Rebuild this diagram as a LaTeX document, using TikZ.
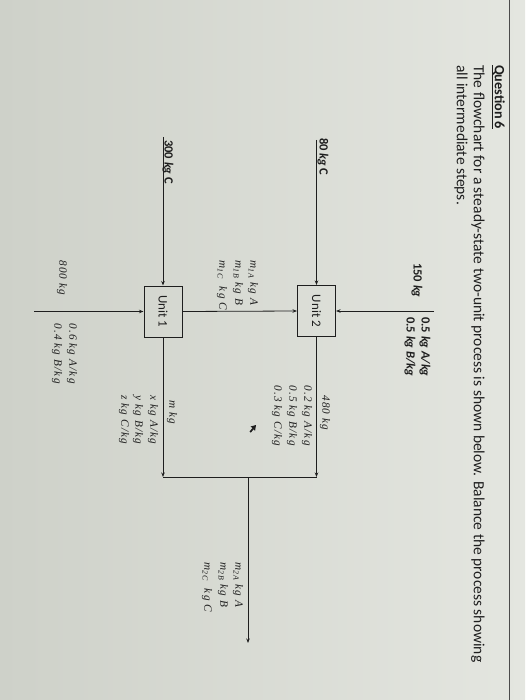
\documentclass[tikz,border=0pt]{standalone}
\usepackage{graphicx}
\usepackage{fontspec}
\setmainfont{Liberation Serif}
\newfontfamily\carl{Carlito}
\newfontfamily\serls{Liberation Serif}[LetterSpace=11]
\usetikzlibrary{arrows.meta}
\definecolor{bgL}{RGB}{206,209,201}
\definecolor{bgR}{RGB}{228,230,224}
\definecolor{ink}{RGB}{30,30,30}
\begin{document}
\begin{tikzpicture}[x=1pt,y=-1pt,
  txt/.style={rotate=-90,anchor=west,inner sep=0pt,text=ink},
  title/.style={txt,font=\carl\fontsize{15.5}{18}\selectfont},
  slab/.style={txt,font=\carl\bfseries\fontsize{12.5}{15}\selectfont},
  ilab/.style={txt,font=\serls\itshape\fontsize{11.2}{13}\selectfont},
  unitbox/.style={draw=ink,line width=1pt,minimum width=38pt,minimum height=51pt,inner sep=0pt,
    font=\carl\fontsize{13}{15}\selectfont,text=ink},
  conn/.style={draw=ink,line width=0.8pt},
  arr/.style={conn,-{Stealth[length=4.5pt,width=3.5pt]}}]
\shade[left color=bgL,right color=bgR] (0,0) rectangle (525,700);
\useasboundingbox (0,0) rectangle (525,700);
\draw[line width=1pt,draw=ink!80] (509,0) -- (509,700);

% title
\node[title,font=\carl\bfseries\fontsize{14.2}{17}\selectfont] (q6) at (498,65) {\underline{Question 6}};
\node[title] (t1) at (478,65) {The flowchart for a steady-state two-unit process is shown below. Balance the process showing};
\node[title] (t2) at (461,65) {all intermediate steps.};

% units
\node[unitbox] (u1) at (163,311.5) {\rotatebox{-90}{Unit 1}};
\node[unitbox] (u2) at (316.5,311) {\rotatebox{-90}{Unit 2}};

% stream ends
\coordinate (s80) at (316.5,140);
\coordinate (s300) at (163,137);
\coordinate (s800) at (34,311.5);
\coordinate (s150) at (434,311);
\coordinate (j1) at (163,477);
\coordinate (j2) at (316.5,477);
\coordinate (jm) at (248,477);
\coordinate (out) at (248,643);

\draw[arr] (s80) -- (u2.north);
\draw[arr] (s300) -- (u1.north);
\draw[arr] (s800) -- (u1.west);
\draw[arr] (u1.east) -- (u2.west);
\draw[arr] (s150) -- (u2.east);
\draw[arr] (u1.south) -- (j1);
\draw[arr] (u2.south) -- (j2);
\draw[conn] (j1) -- (j2);
\draw[arr] (jm) -- (out);

% labels
\node[slab] (l80) at (323,138) {80 \textit{kg} C};
\node[slab] (l300) at (168,140) {300 \textit{kg} C};
\node[slab] (l150) at (417,263) {150 \textit{kg}};
\node[slab] (l150a) at (425,317) {0.5 \textit{kg A/kg}};
\node[slab] (l150b) at (410,317) {0.5 \textit{kg B/kg}};

\node[ilab] (l800) at (62,260) {800 kg};
\node[ilab] (l800a) at (72,323) {0.6 kg A/kg};
\node[ilab] (l800b) at (57,323) {0.4 kg B/kg};

\node[ilab] (m1a) at (253,260) {m\textsubscript{1A} kg A};
\node[ilab] (m1b) at (238,260) {m\textsubscript{1B} kg B};
\node[ilab] (m1c) at (222,260) {m\textsubscript{1C}\ \ kg C};

\node[ilab] (l480) at (325,395) {480 kg};
\node[ilab] (l480a) at (307,385) {0.2 kg A/kg};
\node[ilab] (l480b) at (292,385) {0.5 kg B/kg};
\node[ilab] (l480c) at (277,385) {0.3 kg C/kg};

\node[ilab] (lm) at (172,400) {m kg};
\node[ilab] (lx) at (153,395) {x kg A/kg};
\node[ilab] (ly) at (138,395) {y kg B/kg};
\node[ilab] (lz) at (124,395) {z kg C/kg};

\node[ilab] (m2a) at (238,562) {m\textsubscript{2A} kg A};
\node[ilab] (m2b) at (223,562) {m\textsubscript{2B} kg B};
\node[ilab] (m2c) at (207,562) {m\textsubscript{2C}\ \ kg C};

% mouse pointer
\fill[ink] (256,425) -- (250.5,426.5) -- (252.5,428) -- (249.5,431.5) -- (250.8,432.6) -- (253.8,429.2) -- (255,431) -- cycle;
\end{tikzpicture}
\end{document}
